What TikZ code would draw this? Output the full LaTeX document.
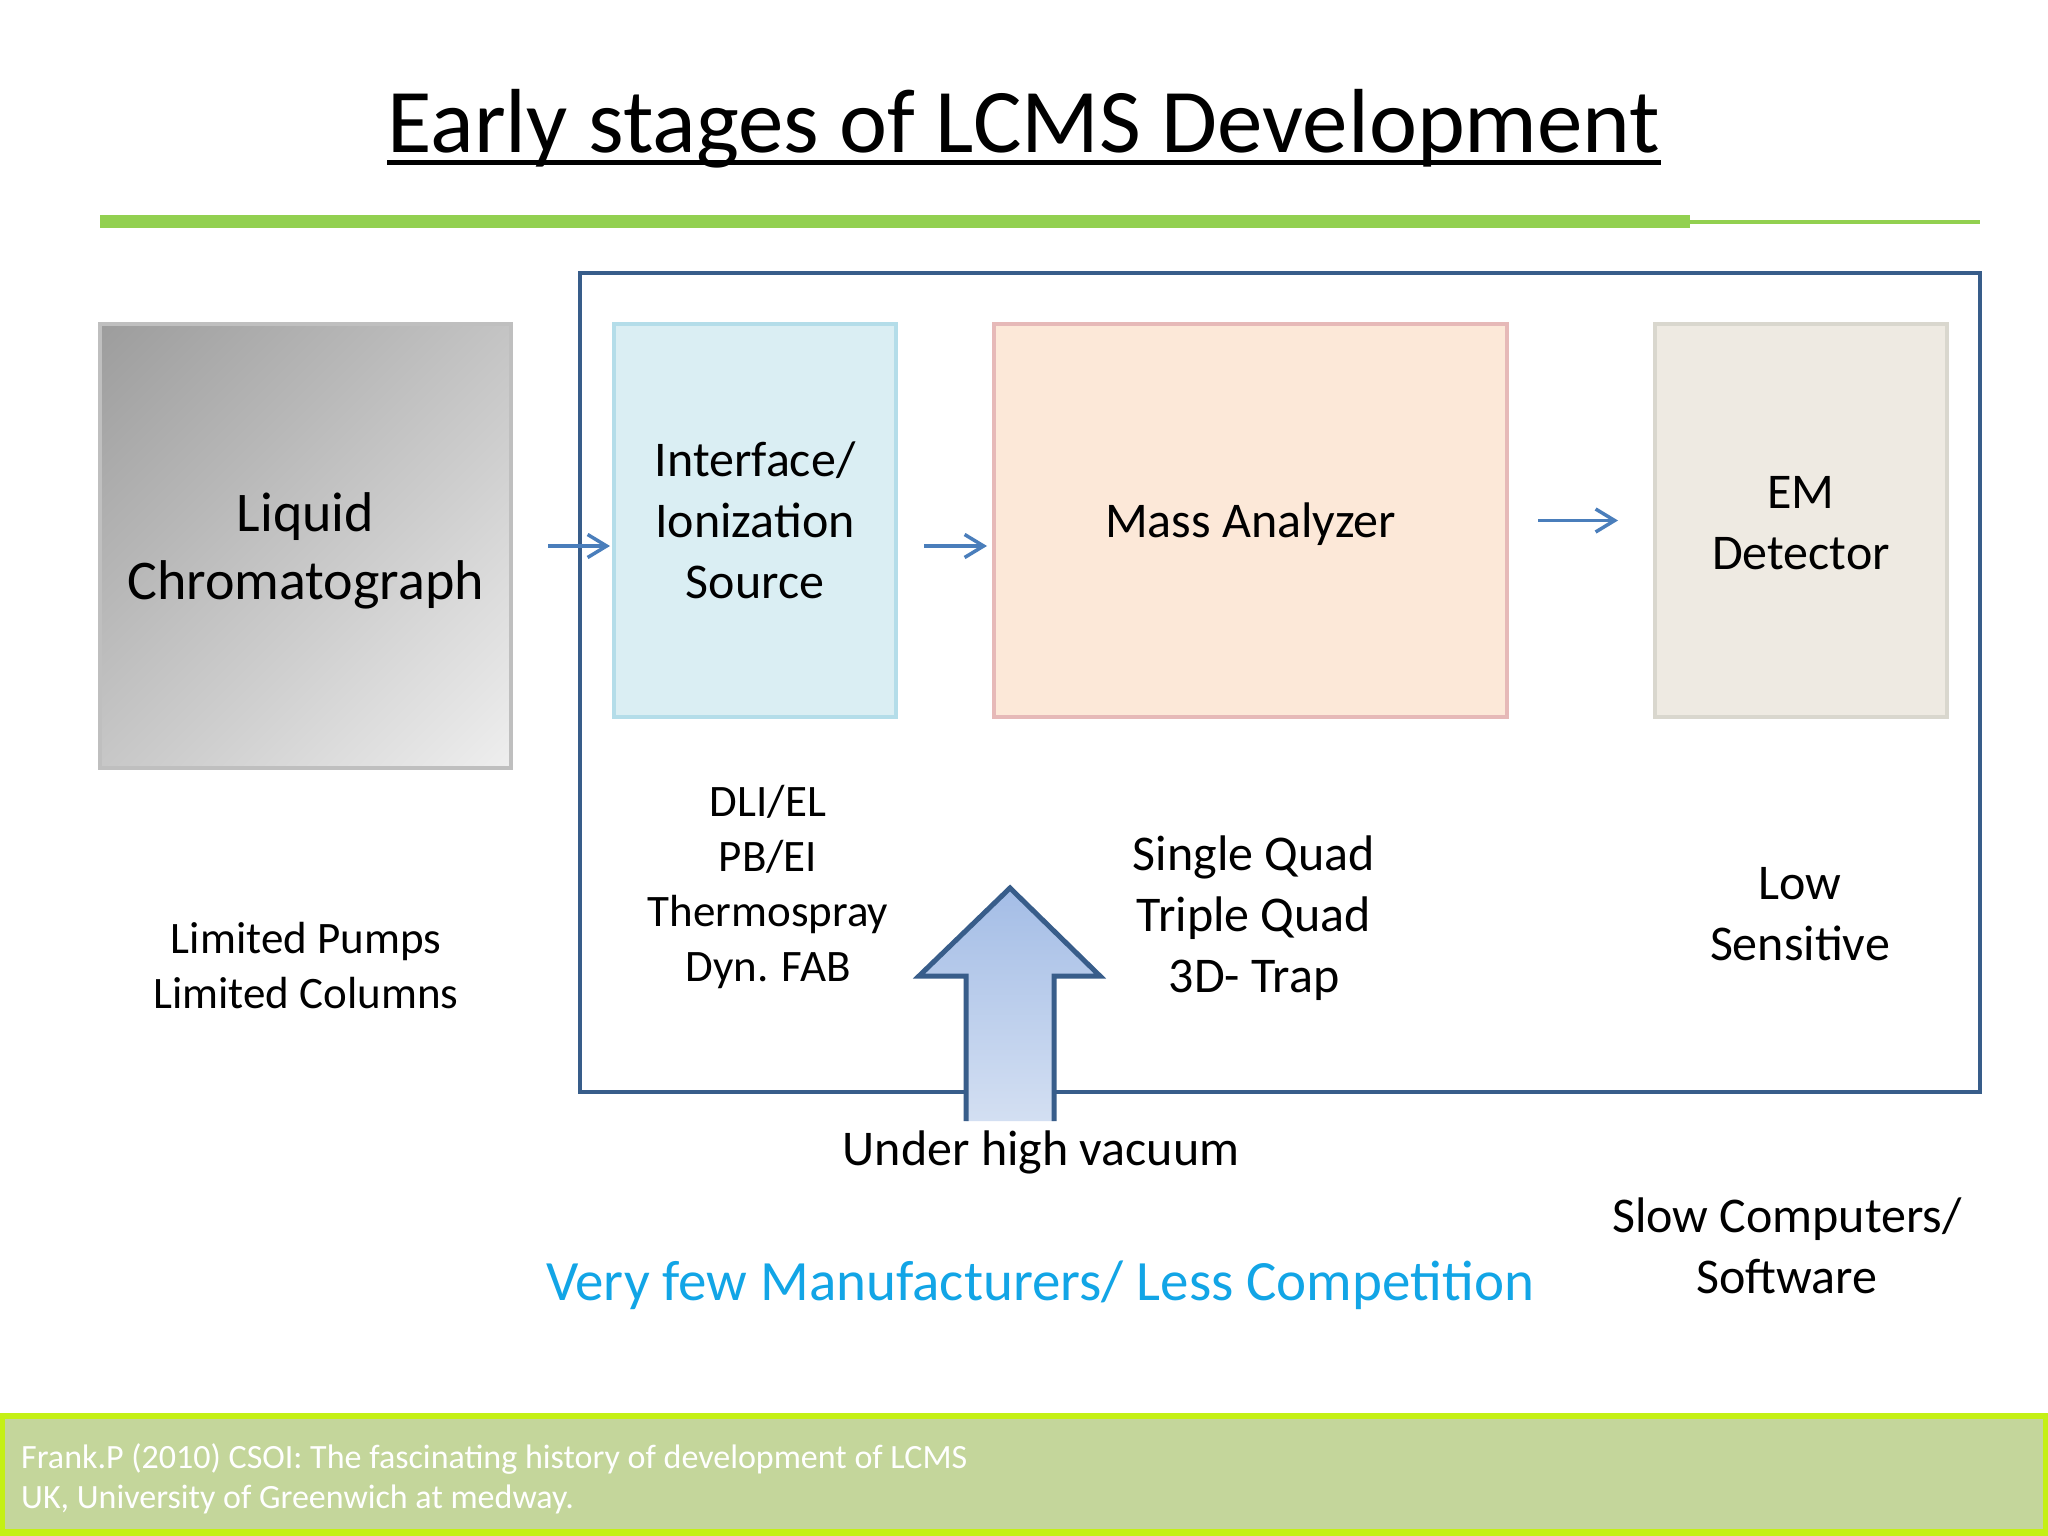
\documentclass[tikz,border=0pt]{standalone}
\usepackage{fontspec}
\setmainfont{Carlito}
\usetikzlibrary{arrows.meta,calc}
\definecolor{framec}{HTML}{385D8A}
\definecolor{arrowc}{HTML}{4A7EBB}
\definecolor{rulegreen}{HTML}{92D050}
\definecolor{lcborder}{HTML}{BFBFBF}
\definecolor{lctop}{HTML}{8C8C8C}
\definecolor{lcbot}{HTML}{FFFFFF}
\definecolor{ionfill}{HTML}{DAEEF3}
\definecolor{ionborder}{HTML}{B4DDE9}
\definecolor{msfill}{HTML}{FCE8D8}
\definecolor{msborder}{HTML}{E6B9B8}
\definecolor{emfill}{HTML}{EEEAE2}
\definecolor{emborder}{HTML}{D9D7CE}
\definecolor{vacA}{HTML}{A4BDE6}
\definecolor{vacB}{HTML}{D3DFF2}
\definecolor{fewc}{HTML}{12A5E6}
\definecolor{limec}{HTML}{C4F014}
\definecolor{footc}{HTML}{C4D69B}
\pgfdeclareverticalshading{lcgrad}{100bp}{color(0bp)=(lcbot); color(100bp)=(lctop)}
\begin{document}
\begin{tikzpicture}[x=1pt,y=-1pt,
  box/.style={draw, line width=4pt, inner sep=0pt},
  boxtext/.style={align=center, inner sep=0pt, font=\fontsize{50}{61}\selectfont},
  lbl/.style={align=center, font=\fontsize{45}{55}\selectfont},
  lbll/.style={align=center, font=\fontsize{50}{61}\selectfont},
  flow/.style={draw=arrowc, line width=3.5pt, -{Straight Barb[length=19pt,width=23pt]}}]
\useasboundingbox (0,0) rectangle (2048,1536);
\fill[white] (0,0) rectangle (2048,1536);

% title
\node[anchor=base, inner sep=0pt, font=\fontsize{91}{110}\selectfont] (title) at (1024,152.5) {Early stages of LCMS Development};
\draw[line width=4pt] ([yshift=-10pt]title.base west) -- ([yshift=-10pt]title.base east);

% green rules
\draw[line width=13pt, rulegreen] (100,221.5) -- (1690,221.5);
\draw[line width=4pt, rulegreen] (1690,222) -- (1980,222);

% vacuum frame
\node[draw=framec, line width=4pt, minimum width=1400pt, minimum height=819pt, inner sep=0pt] (vac) at (1280,682.5) {};

% boxes
\node[box, draw=lcborder, shading=lcgrad, shading angle=45, minimum width=411pt, minimum height=444pt] (lc) at (305.5,546) {};
\node[box, draw=ionborder, fill=ionfill, minimum width=282pt, minimum height=393pt] (ion) at (755,520.5) {};
\node[box, draw=msborder, fill=msfill, minimum width=513pt, minimum height=393pt] (ms) at (1250.5,520.5) {};
\node[box, draw=emborder, fill=emfill, minimum width=292pt, minimum height=393pt] (em) at (1801,520.5) {};

\node[boxtext, font=\fontsize{56}{68}\selectfont] (lct) at ($(lc.center)+(0,5)$) {Liquid\\Chromatograph};
\node[boxtext] (iont) at (ion.center) {Interface/\\Ionization\\Source};
\node[boxtext] (mst) at ($(ms.center)+(0,4)$) {Mass Analyzer};
\node[boxtext] (emt) at ($(em.center)+(0,2.6)$) {EM\\Detector};

% connectors
\draw[flow, shorten <=35pt, shorten >=2pt] (lc.east) -- (ion.west |- lc.east);
\draw[flow, shorten <=26pt, shorten >=5pt] (ion.east |- lc.east) -- (ms.west |- lc.east);
\draw[flow, shorten <=29pt, shorten >=35pt] (ms.east) -- (em.west);

% block arrow (vacuum)
\shade[top color=vacA, bottom color=vacB] (966,1121) -- (966,976) -- (919,976) -- (1010,888) -- (1100,976) -- (1054,976) -- (1054,1121) -- cycle;
\draw[framec, line width=5pt, line join=miter] (966,1121) -- (966,976) -- (919,976) -- (1010,888) -- (1100,976) -- (1054,976) -- (1054,1121);

% labels
\node[lbl] (lim) at (306,966) {Limited Pumps\\Limited Columns};
\node[lbl] (ionl) at (768,887) {DLI/EL\\PB/EI\\Thermospray\\Dyn. FAB};
\node[lbll] (msl) at (1254,918) {Single Quad\\Triple Quad\\3D- Trap};
\node[lbll] (eml) at (1800,914.5) {Low\\Sensitive};
\node[lbll, anchor=base] (vacl) at (1041,1165) {Under high vacuum};
\node[lbll] (slow) at (1787,1246) {Slow Computers/\\Software};
\node[anchor=base, font=\fontsize{57}{68}\selectfont, text=fewc] (few) at (1040,1300) {Very few Manufacturers/ Less Competition};

% footer
\fill[limec] (0,1413) rectangle (2048,1536);
\fill[footc] (5,1419) rectangle (2043,1529);
\node[anchor=west, align=left, text=white, inner sep=0pt, font=\fontsize{34}{40.5}\selectfont] (ref) at (21,1479) {Frank.P (2010) CSOI: The fascinating history of development of LCMS\\UK, University of Greenwich at medway.};
\end{tikzpicture}
\end{document}
